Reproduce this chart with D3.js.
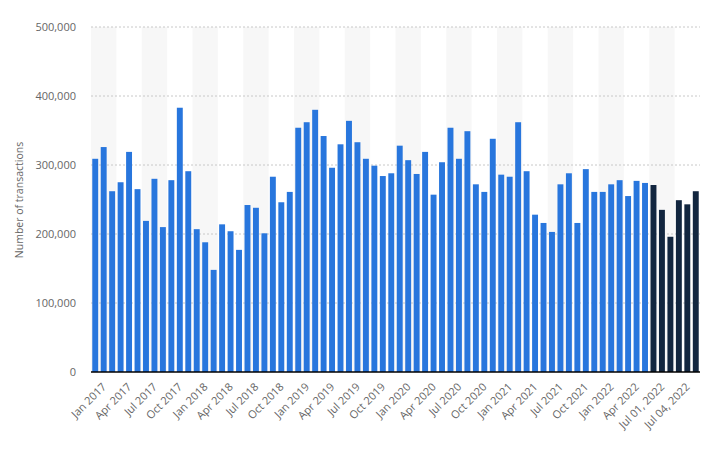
<!DOCTYPE html><html><head><meta charset="utf-8"><script src="https://cdn.jsdelivr.net/npm/d3@7"></script>
<style>body{margin:0;background:#fff}text{font-family:"Open Sans",sans-serif}</style></head><body><svg id="c" width="705" height="461"></svg><script>
const months=["Jan","Feb","Mar","Apr","May","Jun","Jul","Aug","Sep","Oct","Nov","Dec"];
const monthlyValues=[309,326,262,275,319,265,219,280,210,278,383,291,207,188,148,214,204,177,242,238,201,283,246,261,354,362,380,342,296,330,364,333,309,299,284,288,328,307,287,319,257,304,354,309,349,272,261,338,286,283,362,291,228,216,203,272,288,216,294,261,261,272,278,255,277,274].map(v=>v*1000);
const dailyValues=[271,235,196,249,243,262].map(v=>v*1000);
const dailyLabels=["Jul 01, 2022","Jul 02, 2022","Jul 03, 2022","Jul 04, 2022","Jul 05, 2022","Jul 06, 2022"];
const yTicks=[0,100000,200000,300000,400000,500000];
const data=[];
monthlyValues.forEach((v,i)=>data.push({label:months[i%12]+" "+(2017+Math.floor(i/12)),value:v,daily:false}));
dailyValues.forEach((v,i)=>data.push({label:dailyLabels[i],value:v,daily:true}));
const svg=d3.select("#c"),L=91,R=700,T=27,B=372;
const x=d3.scaleBand().domain(data.map(d=>d.label)).range([L,R]).paddingInner(0.3).paddingOuter(0.15);
const y=d3.scaleLinear().domain([0,500000]).range([B,T]);
const step=x.step();
// bands
data.forEach((d,i)=>{if(Math.floor(i/3)%2===0&&i%3===0){svg.append("rect").attr("x",x(d.label)-step*x.paddingInner()/2).attr("y",T).attr("width",step*3).attr("height",B-T).attr("fill","#f7f7f7");}});
svg.append("g").selectAll("line").data(yTicks.slice(1)).join("line").attr("x1",L).attr("x2",R).attr("y1",d=>y(d)).attr("y2",d=>y(d)).attr("stroke","#c8c8c8").attr("stroke-dasharray","2,2");
svg.append("g").selectAll("rect").data(data).join("rect").attr("x",d=>x(d.label)).attr("width",x.bandwidth()).attr("y",d=>y(d.value)).attr("height",d=>B-y(d.value)).attr("fill",d=>d.daily?"#12263f":"#2876dd");
svg.append("line").attr("x1",L).attr("x2",R).attr("y1",B).attr("y2",B).attr("stroke","#000").attr("stroke-width",1.5);
const ya=svg.append("g").attr("transform",`translate(${L},0)`).call(d3.axisLeft(y).tickValues(yTicks).tickFormat(d3.format(",")).tickSize(0).tickPadding(15));
ya.select(".domain").remove();ya.selectAll("text").attr("font-size",11).attr("fill","#666").attr("font-family","Open Sans");
const xa=svg.append("g").attr("transform",`translate(0,${B})`).call(d3.axisBottom(x).tickValues(data.filter((d,i)=>i%3===0).map(d=>d.label)).tickSize(0));
xa.select(".domain").remove();
xa.selectAll("text").attr("font-size",11).attr("fill","#666").attr("font-family","Open Sans").attr("text-anchor","end").attr("transform","translate(4,8) rotate(-45)");
svg.append("text").attr("transform","translate(23,200) rotate(-90)").attr("text-anchor","middle").attr("font-size",10.5).attr("fill","#666").text("Number of transactions");
</script></body></html>
